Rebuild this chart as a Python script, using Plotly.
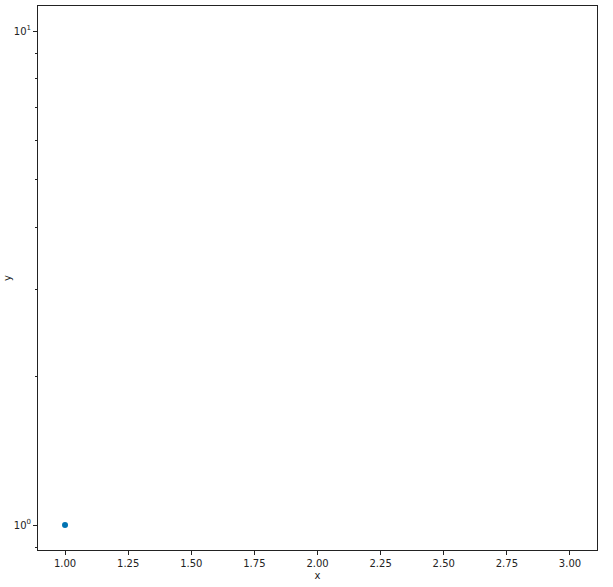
import plotly.graph_objects as go

# data
x_vals = [1, 2, 3]
y_vals = [1, None, None]
x_tick_vals = [1, 1.25, 1.5, 1.75, 2, 2.25, 2.5, 2.75, 3]
x_tick_text = ["1.00", "1.25", "1.50", "1.75", "2.00", "2.25", "2.50", "2.75", "3.00"]
y_tick_vals = [1, 10]
y_tick_text = ["10<sup>0</sup>", "10<sup>1</sup>"]
y_minor_vals = [0.9, 2, 3, 4, 5, 6, 7, 8, 9]

fig = go.Figure()
fig.add_trace(go.Scatter(
    x=x_vals, y=y_vals, mode="markers",
    marker=dict(color="#0173b2", size=6),
    showlegend=False,
))

axis_common = dict(
    showline=True, linecolor="#222", linewidth=1, mirror=True,
    ticks="outside", ticklen=4, tickcolor="#222", tickwidth=1,
    showgrid=False, zeroline=False,
    tickfont=dict(family="DejaVu Sans", size=10, color="#222"),
    title_font=dict(family="DejaVu Sans", size=10, color="#222"),
)

fig.update_xaxes(
    range=[0.893, 3.107], tickvals=x_tick_vals, ticktext=x_tick_text,
    title_text="x", title_standoff=3, **axis_common,
)
fig.update_yaxes(
    type="log", range=[-0.0506, 1.0506],
    tickvals=y_tick_vals, ticktext=y_tick_text,
    minor=dict(ticks="outside", ticklen=2, tickcolor="#222", tickvals=y_minor_vals, showgrid=False),
    title_text="y", title_standoff=0, **axis_common,
)

fig.update_layout(
    width=613, height=587,
    margin=dict(l=38, r=16, t=6, b=37),
    plot_bgcolor="white", paper_bgcolor="white",
    font=dict(family="DejaVu Sans", size=10, color="#222"),
)

# page body has a default margin; drop it so the figure sits at the corner
fig.write_html("out.html", config={"displayModeBar": False},
               post_script="document.body.style.margin='0px';")
